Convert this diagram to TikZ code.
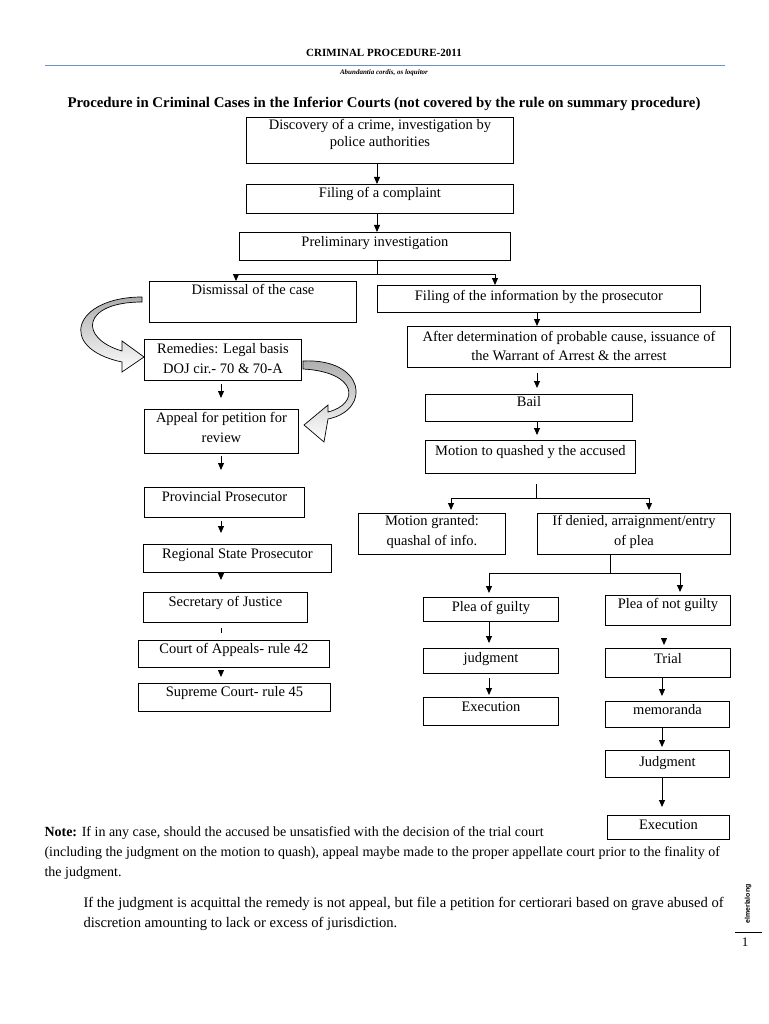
\documentclass[tikz,border=0pt]{standalone}
\usepackage{fontspec}
\setmainfont{Liberation Serif}
\setsansfont{Liberation Sans}
\usetikzlibrary{arrows.meta,positioning}
\tikzset{>/.tip={Triangle[length=7pt,width=6pt]}}
\definecolor{headrule}{RGB}{110,145,190}
\begin{document}
\begin{tikzpicture}[x=1pt,y=-1pt,line width=1pt,
    stepbox/.style={draw,line width=0.9pt,inner sep=0pt,anchor=north west,align=center,
      font=\fontsize{14.5}{19.5}\selectfont},
    bendarrow/.style={draw,line width=0.7pt,top color=gray!65,bottom color=white}]
  \useasboundingbox (0,0) rectangle (768,1024);
  % header
  \node[font=\fontsize{11}{13}\bfseries\selectfont] (head) at (384,53) {CRIMINAL PROCEDURE-2011};
  \draw[headrule,line width=0.8pt] (45,65) -- (725,65);
  \node[font=\fontsize{7}{8}\bfseries\itshape\selectfont] (motto) at (384,73) {Abundantia cordis, os loquitor};
  \node[font=\fontsize{14.8}{17}\bfseries\selectfont] (title) at (384,104)
    {Procedure in Criminal Cases in the Inferior Courts (not covered by the rule on summary procedure)};
  % main trunk
  \node[stepbox,minimum width=267pt,text height=29.5pt,text depth=16.5pt] (disc) at (246,117)
    {Discovery of a crime, investigation by\\[-2.5pt] police authorities};
  \node[stepbox,minimum width=267pt,text height=13.5pt,text depth=15.5pt] (compl) at (246,184) {Filing of a complaint};
  \node[stepbox,minimum width=271pt,text height=14.5pt,text depth=13.5pt] (prelim) at (239,232) {Preliminary investigation};
  \node[stepbox,minimum width=207pt,text height=13.5pt,text depth=27.5pt] (dism) at (149,281) {Dismissal of the case};
  \node[stepbox,minimum width=323pt,text height=15.5pt,text depth=11.5pt] (finfo) at (377,285) {Filing of the information by the prosecutor};
  % right branch
  \node[stepbox,minimum width=323pt,text height=34.5pt,text depth=6.5pt] (after) at (407,326)
    {After determination of probable cause, issuance of\\ the Warrant of Arrest \& the arrest};
  \node[stepbox,minimum width=207pt,text height=12.5pt,text depth=14.5pt] (bail) at (425,394) {Bail};
  \node[stepbox,minimum width=210pt,text height=15.5pt,text depth=17.5pt] (motion) at (425,440) {Motion to quashed y the accused};
  \node[stepbox,minimum width=147pt,text height=32pt,text depth=9pt] (granted) at (358,513)
    {Motion granted:\\ quashal of info.};
  \node[stepbox,minimum width=193pt,text height=32pt,text depth=9pt] (denied) at (537,513)
    {If denied, arraignment/entry\\ of plea};
  \node[stepbox,minimum width=135pt,text height=14.5pt,text depth=9.5pt] (guilty) at (423,597) {Plea of guilty};
  \node[stepbox,minimum width=125pt,text height=13.5pt,text depth=16.5pt] (notg) at (605,595) {Plea of not guilty};
  \node[stepbox,minimum width=135pt,text height=14.5pt,text depth=10.5pt] (judg1) at (423,648) {judgment};
  \node[stepbox,minimum width=135pt,text height=14.5pt,text depth=13.5pt] (exec1) at (423,697) {Execution};
  \node[stepbox,minimum width=125pt,text height=15.5pt,text depth=13.5pt] (trial) at (605,648) {Trial};
  \node[stepbox,minimum width=124pt,text height=13.5pt,text depth=12.5pt] (memo) at (605,701) {memoranda};
  \node[stepbox,minimum width=124pt,text height=16.5pt,text depth=10.5pt] (judg2) at (605,750) {Judgment};
  \node[stepbox,minimum width=122pt,text height=14.5pt,text depth=9.5pt] (exec2) at (607,815) {Execution};
  % left branch
  \node[stepbox,minimum width=157pt,text height=34pt,text depth=7pt] (remed) at (144,339)
    {Remedies: Legal basis\\ DOJ cir.- 70 \& 70-A};
  \node[stepbox,minimum width=154pt,text height=33pt,text depth=11pt] (appeal) at (144,409)
    {Appeal for petition for\\ review};
  \node[stepbox,minimum width=160pt,text height=14.5pt,text depth=15.5pt] (prov) at (144,487) {Provincial Prosecutor};
  \node[stepbox,minimum width=188pt,text height=14.5pt,text depth=13.5pt] (regional) at (143,544) {Regional State Prosecutor};
  \node[stepbox,minimum width=164pt,text height=14.5pt,text depth=15.5pt] (secr) at (143,592) {Secretary of Justice};
  \node[stepbox,minimum width=191pt,text height=13.5pt,text depth=13.5pt] (coa) at (138,640) {Court of Appeals- rule 42};
  \node[stepbox,minimum width=192pt,text height=13.5pt,text depth=14.5pt] (sc) at (138,683) {Supreme Court- rule 45};
  % split points
  \coordinate (split1) at (377,274);
  \coordinate (split2) at (536,498);
  \coordinate (split3) at (610,573);
  % connectors
  \draw[->] (disc.south -| 377,0) -- (compl.north -| 377,0);
  \draw[->] (compl.south -| 377,0) -- (prelim.north -| 377,0);
  \draw (prelim.south -| split1) -- (split1);
  \draw[->] (split1) -| (dism.north -| 236,0);
  \draw[->] (split1) -| (finfo.north -| 495,0);
  \draw[->] (finfo.south -| 537,0) -- (after.north -| 537,0);
  \draw[->,shorten <=5pt,shorten >=6pt] (after.south -| 537,0) -- (bail.north -| 537,0);
  \draw[->,shorten >=5pt] (bail.south -| 537,0) -- (motion.north -| 537,0);
  \draw ([yshift=-10pt]motion.south -| split2) -- (split2);
  \draw[->,shorten >=3pt] (split2) -| (granted.north -| 451,0);
  \draw[->,shorten >=3pt] (split2) -| (denied.north -| 649,0);
  \draw (denied.south -| split3) -- (split3);
  \draw[->,shorten >=4pt] (split3) -| (guilty.north -| 489,0);
  \draw[->,shorten >=3pt] (split3) -| (notg.north -| 680,0);
  \draw[->,shorten >=5pt] (guilty.south -| 489,0) -- (judg1.north -| 489,0);
  \draw[->,shorten <=4pt,shorten >=2pt] (judg1.south -| 489,0) -- (exec1.north -| 489,0);
  \draw[->,shorten <=13pt,shorten >=3pt] (notg.south -| 664,0) -- (trial.north -| 664,0);
  \draw[->,shorten >=5pt] (trial.south -| 662,0) -- (memo.north -| 662,0);
  \draw[->,shorten >=3pt] (memo.south -| 662,0) -- (judg2.north -| 662,0);
  \draw[->,shorten >=8pt] (judg2.south -| 662,0) -- (exec2.north -| 662,0);
  \draw[->,shorten <=3pt,shorten >=11pt] (remed.south -| 221,0) -- (appeal.north -| 221,0);
  \draw[->,shorten <=2pt,shorten >=17pt] (appeal.south -| 221,0) -- (prov.north -| 221,0);
  \draw[->,shorten <=3pt,shorten >=11pt] (prov.south -| 221,0) -- (regional.north -| 221,0);
  \draw[->,shorten <=1pt,shorten >=12pt] (regional.south -| 221,0) -- (secr.north -| 221,0);
  \draw[shorten <=5pt,shorten >=7pt] (secr.south -| 221,0) -- (coa.north -| 221,0);
  \draw[->,shorten <=2pt,shorten >=6pt] (coa.south -| 221,0) -- (sc.north -| 221,0);
  % curved block arrows
  \path[bendarrow] (142,297) .. controls (74,297) and (56,348) .. (122,362) -- (122,372) -- (144,357)
    -- (122,341) -- (122,351) .. controls (78,338) and (82,302) .. (142,302) -- cycle;
  \path[bendarrow] (303,361) .. controls (365,358) and (372,410) .. (328,419) -- (324,442) -- (304,425)
    -- (328,405) -- (328,412) .. controls (360,404) and (358,372) .. (303,369) -- cycle;
  % notes
  \node[anchor=north west,align=left,inner sep=0pt,font=\fontsize{14}{20}\selectfont] (note) at (44,826)
    {\textbf{Note:} If in any case, should the accused be unsatisfied with the decision of the trial court\\
     (including the judgment on the motion to quash), appeal maybe made to the proper appellate court prior to the finality of\\
     the judgment.};
  \node[anchor=north west,align=left,inner sep=0pt,font=\fontsize{14.6}{19.5}\selectfont] (acquit) at (83,897)
    {If the judgment is acquittal the remedy is not appeal, but file a petition for certiorari based on grave abused of\\
     discretion amounting to lack or excess of jurisdiction.};
  % page margin
  \node[rotate=90,font=\sffamily\bfseries\fontsize{7}{8}\selectfont] (author) at (748,904) {elmerlalong};
  \draw[line width=0.6pt] (735,932) -- (762,932);
  \node[font=\fontsize{13}{15}\selectfont] (page) at (745,942) {1};
\end{tikzpicture}
\end{document}
